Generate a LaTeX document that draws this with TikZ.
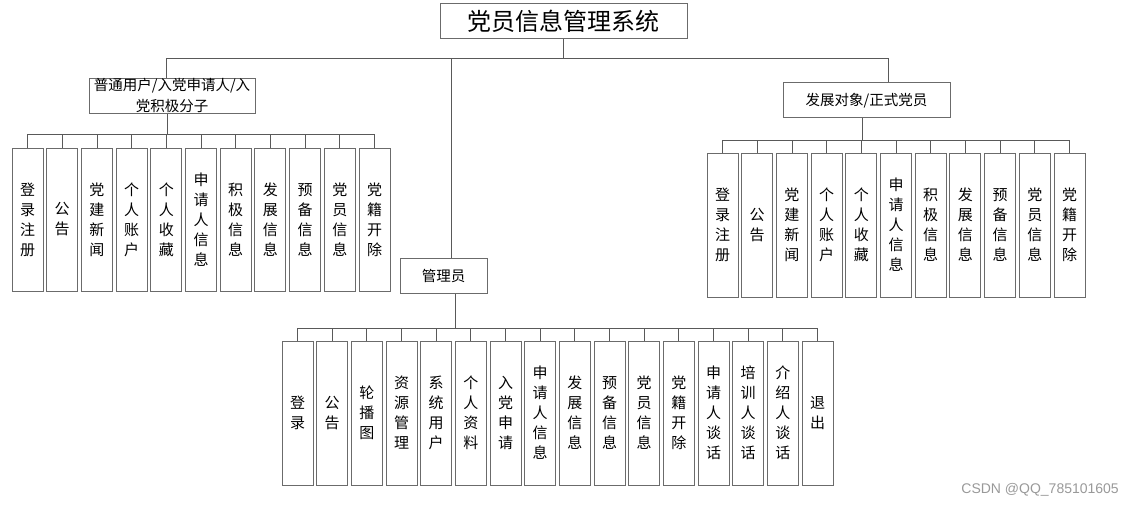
\documentclass[tikz,border=0pt]{standalone}
\usepackage{fontspec}
\setmainfont{Noto Sans CJK SC}
\newfontfamily\wmfont{Liberation Sans}
\begin{document}
\begin{tikzpicture}[x=1pt,y=-1pt,
  box/.style={draw=black!58, line width=1pt, fill=white, inner sep=0pt, align=center},
  child/.style={box, minimum width=31, minimum height=143, font=\fontsize{15}{20}\selectfont},
  conn/.style={draw=black!65, line width=0.8pt}]
\useasboundingbox (0,0) rectangle (1134,508);
% top title
\node[box, minimum width=247, minimum height=35, font=\fontsize{24}{28}\selectfont] (title) at (563.5,21.5) {党员信息管理系统};
% group nodes
\node[box, minimum width=166, minimum height=35, anchor=north] (g1) at (172,78) {};
\node[font=\fontsize{14.5}{21}\selectfont, align=center, anchor=north, inner sep=0pt] (g1t) at (172,78.5) {普通用户/入党申请人/入\\党积极分子};
\node[box, minimum width=167, minimum height=35, font=\fontsize{14.5}{20}\selectfont] (g2) at (866.5,100.5) {发展对象/正式党员};
\node[box, minimum width=87, minimum height=35, font=\fontsize{14.5}{20}\selectfont] (adm) at (443.5,275.5) {管理员};
% bus coordinates
\coordinate (tb) at (0,58);
\coordinate (lb) at (0,134);
\coordinate (rb) at (0,140);
\coordinate (ab) at (0,328);
% top connectors
\draw[conn] (title.south) -- (title.south |- tb);
\draw[conn] ([xshift=-6pt]g1.north) -- ([xshift=-6pt]g1.north |- tb) -- ([xshift=21.5pt]g2.north |- tb) -- ([xshift=21.5pt]g2.north);
\draw[conn] ([xshift=7.5pt]adm.north) -- ([xshift=7.5pt]adm.north |- tb);
% left children
\foreach \t [count=\i] in {{登\\录\\注\\册},{公\\告},{党\\建\\新\\闻},{个\\人\\账\\户},{个\\人\\收\\藏},{申\\请\\人\\信\\息},{积\\极\\信\\息},{发\\展\\信\\息},{预\\备\\信\\息},{党\\员\\信\\息},{党\\籍\\开\\除}}{
  \node[child] (l\i) at ({27.5+34.7*(\i-1)},219.5) {\t};
  \draw[conn] (l\i.north) -- (l\i.north |- lb);
}
\draw[conn] ([xshift=-5pt]g1.south) -- ([xshift=-5pt]g1.south |- lb);
\draw[conn] (l1.north |- lb) -- (l11.north |- lb);
% right children
\foreach \t [count=\i] in {{登\\录\\注\\册},{公\\告},{党\\建\\新\\闻},{个\\人\\账\\户},{个\\人\\收\\藏},{申\\请\\人\\信\\息},{积\\极\\信\\息},{发\\展\\信\\息},{预\\备\\信\\息},{党\\员\\信\\息},{党\\籍\\开\\除}}{
  \node[child, minimum height=144] (r\i) at ({722.5+34.7*(\i-1)},225) {\t};
  \draw[conn] (r\i.north) -- (r\i.north |- rb);
}
\draw[conn] ([xshift=-4.5pt]g2.south) -- ([xshift=-4.5pt]g2.south |- rb);
\draw[conn] (r1.north |- rb) -- (r11.north |- rb);
% admin children
\foreach \t [count=\i] in {{登\\录},{公\\告},{轮\\播\\图},{资\\源\\管\\理},{系\\统\\用\\户},{个\\人\\资\\料},{入\\党\\申\\请},{申\\请\\人\\信\\息},{发\\展\\信\\息},{预\\备\\信\\息},{党\\员\\信\\息},{党\\籍\\开\\除},{申\\请\\人\\谈\\话},{培\\训\\人\\谈\\话},{介\\绍\\人\\谈\\话},{退\\出}}{
  \node[child, minimum height=144] (a\i) at ({297.5+34.67*(\i-1)},413) {\t};
  \draw[conn] (a\i.north) -- (a\i.north |- ab);
}
\draw[conn] ([xshift=11.5pt]adm.south) -- ([xshift=11.5pt]adm.south |- ab);
\draw[conn] (a1.north |- ab) -- (a16.north |- ab);
% watermark
\node[anchor=east, inner sep=0pt, text=black!40, font=\wmfont\fontsize{14}{16}\selectfont] (wm) at (1119,490) {CSDN @QQ\_785101605};
\end{tikzpicture}
\end{document}
